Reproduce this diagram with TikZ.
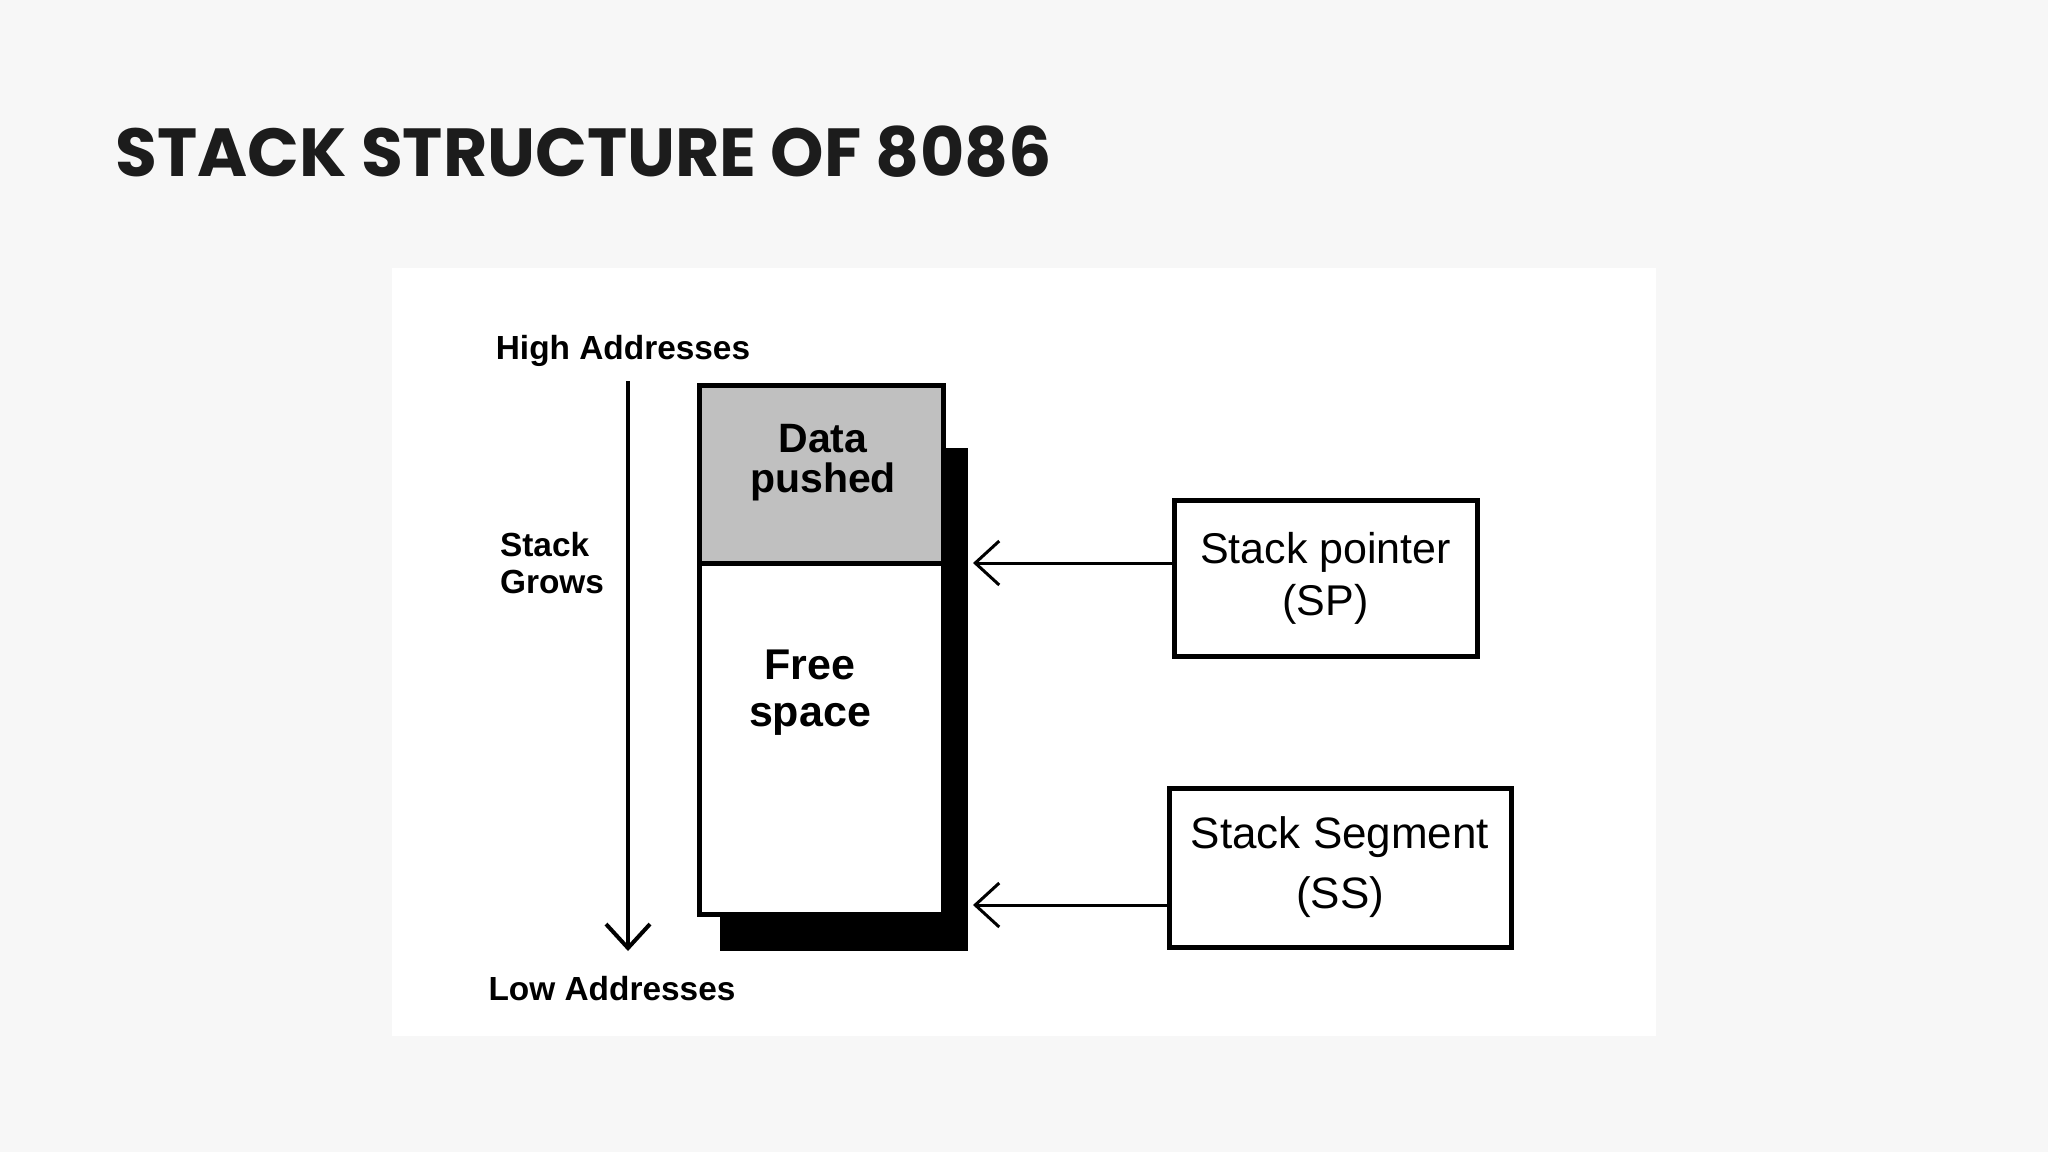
\documentclass[tikz,border=0pt]{standalone}
\usepackage{fontspec}
\setmainfont{Liberation Sans}
\newfontfamily\titlefont{Poppins}
\usepackage{tikz}
\usetikzlibrary{arrows.meta, positioning}
\definecolor{slidebg}{HTML}{F7F7F7}
\definecolor{pushgray}{HTML}{C0C0C0}
\definecolor{titleink}{HTML}{1C1C1C}
\tikzstyle{cell} = [
  rectangle, draw=black, line width=2.5pt,
  minimum width=122pt, inner sep=0pt
]
\tikzstyle{celltext} = [
  align=center, inner sep=0pt,
  font=\bfseries\fontsize{20.5}{20}\selectfont
]
\tikzstyle{reg} = [
  rectangle, draw=black, fill=white, line width=2.5pt,
  align=center, inner sep=0pt,
  font=\fontsize{21.5}{26}\selectfont
]
\tikzstyle{lbl} = [
  align=left, inner sep=0pt,
  font=\bfseries\fontsize{16.7}{18.5}\selectfont
]
\tikzstyle{arrow} = [-{Straight Barb[length=12pt, width=22pt]}, line width=1.5pt]

\begin{document}
\begin{tikzpicture}[x=0.5pt, y=-0.5pt]

  % Slide
  \fill[slidebg] (0,0) rectangle (2048,1152);
  \useasboundingbox (0,0) rectangle (2048,1152);
  \node[anchor=west, inner sep=0pt, text=titleink, font=\titlefont\bfseries\fontsize{34}{34}\selectfont] (title) at (115,152) {STACK STRUCTURE OF 8086};
  \node[fill=white, minimum width=632pt, minimum height=384pt, inner sep=0pt] (panel) at (1024,652) {};

  % Direction of growth
  \node[lbl] (high) at (623,351) {High Addresses};
  \node[lbl] (grows) at (552,563) {Stack\\Grows};
  \node[lbl] (low) at (612,989) {Low Addresses};
  \coordinate (grtop) at (628,381);
  \coordinate (grbot) at (628,951);
  \draw[arrow, line width=2pt] (grtop) -- (grbot);

  % Stack
  \node[fill=black, minimum width=124pt, minimum height=251.5pt, inner sep=0pt] (shadow) at (844,699.5) {};
  \node[cell, fill=white, minimum height=175.5pt] (free) at (821,738.5) {};
  \node[cell, fill=pushgray, minimum height=89pt] (pushed) at (821,474) {};
  \node[celltext] (pushedtext) at (823,463) {Data\\pushed};
  \node[celltext, font=\bfseries\fontsize{21.5}{23.5}\selectfont] (freetext) at (810,693) {Free\\space};

  % Registers
  \node[reg, minimum width=151.5pt, minimum height=78pt] (sp) at (1325.5,578) {Stack pointer\\(SP)};
  \node[reg, minimum width=171pt, minimum height=79.5pt, font=\fontsize{22}{30}\selectfont] (ss) at (1340,867.5) {Stack Segment\\(SS)};

  % Pointers into the stack
  \coordinate (sptip) at (973,563);
  \coordinate (sstip) at (973,905);
  \draw[arrow] (sp.west |- sptip) -- (sptip);
  \draw[arrow] (ss.west |- sstip) -- (sstip);

\end{tikzpicture}
\end{document}
